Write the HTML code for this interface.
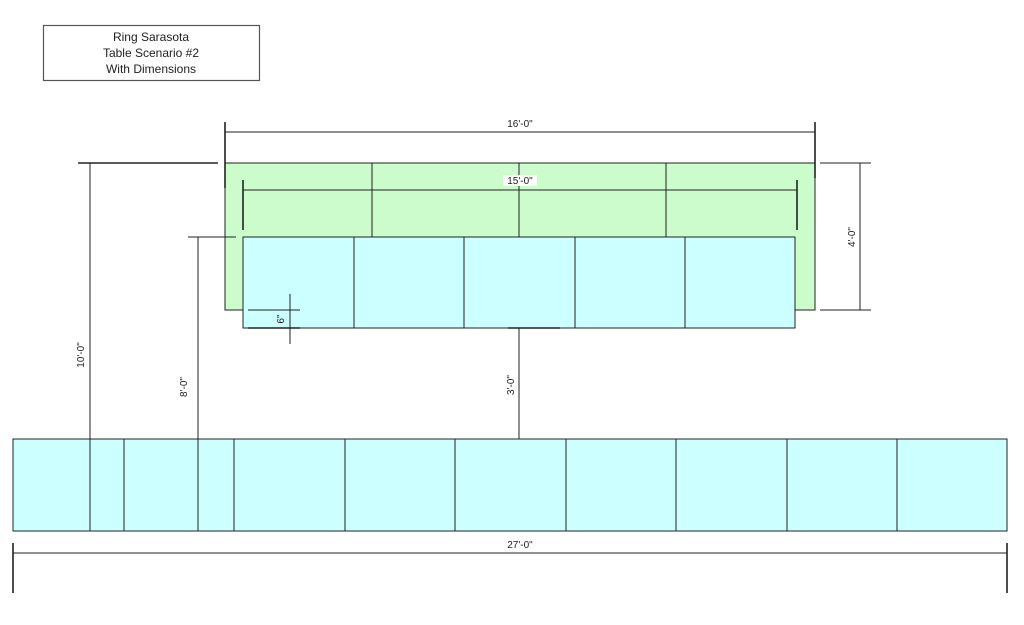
<!DOCTYPE html>
<html><head><meta charset="utf-8"><style>html,body{margin:0;padding:0;background:#fff}svg{display:block}text{font-family:"Liberation Sans",sans-serif;font-size:10px;fill:#222}</style></head><body>
<svg width="1024" height="625" viewBox="0 0 1024 625" xmlns="http://www.w3.org/2000/svg">
<rect x="43.5" y="25.5" width="216" height="55" fill="#fff" stroke="#555" stroke-width="1.2"/>
<text x="151" y="41" text-anchor="middle" style="font-size:12px">Ring Sarasota</text>
<text x="151" y="57" text-anchor="middle" style="font-size:12px">Table Scenario #2</text>
<text x="151" y="73" text-anchor="middle" style="font-size:12px">With Dimensions</text>
<g stroke="#222" stroke-width="1">
<rect x="225" y="163" width="590" height="147" fill="#ccfccc"/>
<line x1="372" y1="163" x2="372" y2="237"/><line x1="519" y1="163" x2="519" y2="237"/><line x1="666" y1="163" x2="666" y2="237"/>
<rect x="243" y="237" width="552" height="91" fill="#ccffff"/>
<line x1="354" y1="237" x2="354" y2="328"/><line x1="464" y1="237" x2="464" y2="328"/><line x1="575" y1="237" x2="575" y2="328"/><line x1="685" y1="237" x2="685" y2="328"/>
<rect x="13" y="439" width="994" height="92" fill="#ccffff"/>
<line x1="124" y1="439" x2="124" y2="531"/><line x1="234" y1="439" x2="234" y2="531"/><line x1="345" y1="439" x2="345" y2="531"/><line x1="455" y1="439" x2="455" y2="531"/><line x1="566" y1="439" x2="566" y2="531"/><line x1="676" y1="439" x2="676" y2="531"/><line x1="787" y1="439" x2="787" y2="531"/><line x1="897" y1="439" x2="897" y2="531"/>
<line x1="225" y1="132" x2="815" y2="132"/>
<line x1="225" y1="122" x2="225" y2="188" stroke-width="1.6"/><line x1="815" y1="122" x2="815" y2="178" stroke-width="1.6"/>
<line x1="243" y1="190" x2="797" y2="190"/>
<line x1="243" y1="180" x2="243" y2="230" stroke-width="1.6"/><line x1="797" y1="180" x2="797" y2="230" stroke-width="1.6"/>
<line x1="860" y1="163" x2="860" y2="310"/>
<line x1="820" y1="163" x2="871" y2="163"/><line x1="820" y1="310" x2="871" y2="310"/>
<line x1="78" y1="163" x2="218" y2="163" stroke-width="1.4"/>
<line x1="90" y1="163" x2="90" y2="531"/>
<line x1="188" y1="237" x2="236" y2="237"/>
<line x1="198" y1="237" x2="198" y2="531"/>
<line x1="519" y1="328" x2="519" y2="439"/>
<line x1="508" y1="328" x2="560" y2="328" stroke-width="1.6"/>
<line x1="248" y1="310" x2="300" y2="310"/><line x1="248" y1="328" x2="300" y2="328" stroke-width="1.6"/>
<line x1="290" y1="294" x2="290" y2="344"/>
<line x1="13" y1="553" x2="1007" y2="553"/>
<line x1="13" y1="543" x2="13" y2="593" stroke-width="1.6"/><line x1="1007" y1="543" x2="1007" y2="593" stroke-width="1.6"/>
</g>
<text x="520" y="127" text-anchor="middle">16'-0"</text>
<rect x="503" y="175" width="34" height="11" fill="#fff"/>
<text x="520" y="184" text-anchor="middle">15'-0"</text>
<text x="520" y="548" text-anchor="middle">27'-0"</text>
<text transform="translate(855,237) rotate(-90)" text-anchor="middle">4'-0"</text>
<text transform="translate(84,355) rotate(-90)" text-anchor="middle">10'-0"</text>
<text transform="translate(187,387) rotate(-90)" text-anchor="middle">8'-0"</text>
<text transform="translate(514,385) rotate(-90)" text-anchor="middle">3'-0"</text>
<text transform="translate(284,319) rotate(-90)" text-anchor="middle">6"</text>
</svg>
</body></html>
